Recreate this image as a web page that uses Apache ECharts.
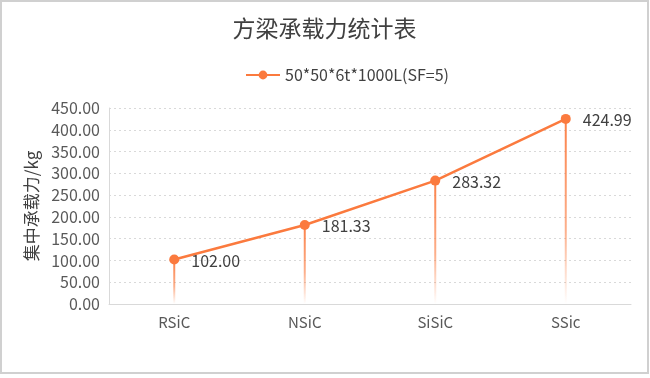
<!DOCTYPE html>
<html><head><meta charset="utf-8">
<script src="https://cdn.jsdelivr.net/npm/echarts@6/dist/echarts.min.js"></script>
<style>
html,body{margin:0;padding:0;background:#fff;}
#wrap{position:absolute;left:0;top:0;width:645px;height:370px;border:2px solid #d0d0d0;}
#c{width:645px;height:370px;}
</style></head>
<body><div id="wrap"><div id="c"></div></div>
<script>
const categories = ['RSiC','NSiC','SiSiC','SSic'];
const values = [102.00, 181.33, 283.32, 424.99];
const seriesName = '50*50*6t*1000L(SF=5)';
const titleText = '方梁承载力统计表';
const yName = '集中承载力/kg';
const color = '#fb7a3e';
const font = '"Noto Sans CJK SC","Noto Sans",sans-serif';
const chart = echarts.init(document.getElementById('c'));
chart.setOption({
  animation:false,
  title:{text:titleText,left:'center',top:10,textStyle:{fontFamily:font,fontSize:23,fontWeight:'normal',color:'#404040'}},
  legend:{data:[seriesName],top:60,left:238,itemWidth:34,itemHeight:11,itemGap:6,textStyle:{fontFamily:font,fontSize:16,color:'#404040'}},
  grid:{left:107,right:16,top:106,bottom:68},
  xAxis:{type:'category',data:categories,boundaryGap:true,
    axisLine:{lineStyle:{color:'#d9d9d9'}},axisTick:{show:false},
    axisLabel:{fontFamily:font,fontSize:15,color:'#595959',margin:11}},
  yAxis:{type:'value',min:0,max:450,interval:50,name:yName,nameLocation:'middle',nameGap:69,
    nameTextStyle:{fontFamily:font,fontSize:17,color:'#404040'},
    axisLine:{show:true,lineStyle:{color:'#d9d9d9'}},
    splitLine:{lineStyle:{color:'#d9d9d9',type:[2,3]}},
    axisLabel:{fontFamily:font,fontSize:16,color:'#595959',margin:9,formatter:v=>v.toFixed(2)}},
  series:[
    {type:'bar',data:values,barWidth:2,silent:true,legendHoverLink:false,
      itemStyle:{color:new echarts.graphic.LinearGradient(0,0,0,1,[{offset:0,color:'rgba(251,122,62,0.95)'},{offset:0.6,color:'rgba(251,122,62,0.6)'},{offset:1,color:'rgba(251,122,62,0)'}])},
      z:1},
    {type:'line',name:seriesName,data:values,symbol:'circle',symbolSize:10,
      lineStyle:{color:color,width:2.5},itemStyle:{color:color},z:3,
      label:{show:true,position:'right',distance:12,fontFamily:font,fontSize:16,color:'#404040',offset:[0,1],formatter:p=>p.value.toFixed(2)}}
  ]
});
</script></body></html>
